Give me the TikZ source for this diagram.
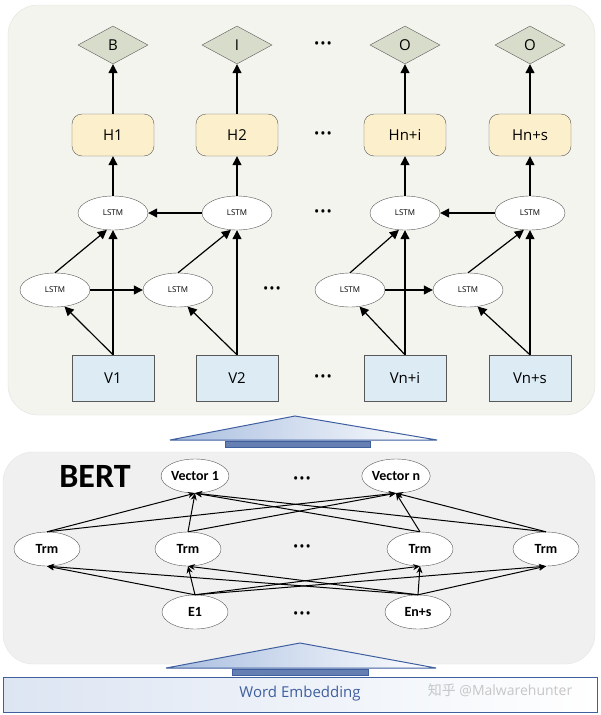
\documentclass[tikz,border=0pt]{standalone}
\usepackage{fontspec}
\setmainfont{Open Sans}
\newfontfamily\calfont{Carlito}
\newfontfamily\cjkf{Noto Sans CJK SC}
\usetikzlibrary{shapes.geometric,arrows.meta}
\definecolor{panel}{HTML}{F4F4EF}
\definecolor{panelb}{HTML}{F0F0F0}
\definecolor{dia}{HTML}{D8DCCB}
\definecolor{hbox}{HTML}{FCEFCB}
\definecolor{vbox}{HTML}{DCEBF4}
\definecolor{bluel}{HTML}{3F5F9F}
\definecolor{bluef}{HTML}{A9BEE0}
\begin{document}
\begin{tikzpicture}[x=1pt,y=-1pt,
 dia/.style={diamond,aspect=1.9,draw=gray!70!black,fill=dia,minimum width=70pt,minimum height=38pt,inner sep=0pt,font=\fontsize{15}{15}\selectfont},
 hb/.style={rectangle,rounded corners=10pt,draw=gray!70!black,fill=hbox,minimum width=82pt,minimum height=42pt,font=\fontsize{15}{15}\selectfont},
 ls/.style={ellipse,draw=gray!70!black,fill=white,minimum width=70pt,minimum height=34pt,inner sep=0pt,font=\fontsize{8}{8}\selectfont},
 vb/.style={rectangle,draw=gray!70!black,fill=vbox,minimum width=82pt,minimum height=46pt,font=\fontsize{15}{15}\selectfont},
 dots/.style={font=\fontsize{14}{14}\selectfont},
 ar/.style={-{Triangle[length=9pt,width=9pt]},line width=1.2pt},
 be/.style={ellipse,draw=gray!70!black,fill=white,minimum width=66pt,minimum height=34pt,inner sep=0pt,font=\calfont\bfseries\fontsize{14}{14}\selectfont},
 ba/.style={-{Stealth[length=7pt,width=6pt]},line width=1pt},
 bigar/.style={draw=bluel,line width=1pt,left color=bluef,right color=white},
 bar/.style={draw=bluel,line width=1pt,fill=bluel!80}]
\newcommand{\tdots}{\textbullet\kern1pt\textbullet\kern1pt\textbullet}
\useasboundingbox (0,0) rectangle (600,715);
\fill[white] (0,0) rectangle (600,715);
\filldraw[panel!85!gray,fill=panel,rounded corners=30pt] (8,5) rectangle (595,415);
% top nodes
\foreach \n/\x/\t in {1/113/B,2/237/I,3/405/O,4/530/O}{\node[dia] (d\n) at (\x,45) {\t};}
\foreach \n/\x/\t in {1/113/H1,2/237/H2,3/405/Hn+i,4/530/Hn+s}{\node[hb] (h\n) at (\x,135) {\t};}
\foreach \n/\x in {1/113,2/237,3/405,4/530}{\node[ls] (u\n) at (\x,213) {LSTM};}
\foreach \n/\x in {1/55,2/178,3/350,4/468}{\node[ls] (l\n) at (\x,290) {LSTM};}
\foreach \n/\x/\t in {1/113/V1,2/237/V2,3/405/Vn+i,4/530/Vn+s}{\node[vb] (v\n) at (\x,378) {\t};}
\node[dots] (t1) at (323,45) {\tdots};
\node[dots] (t2) at (323,135) {\tdots};
\node[dots] (t3) at (323,213) {\tdots};
\node[dots] (t4) at (272,290) {\tdots};
\node[dots] (t5) at (323,378) {\tdots};
\foreach \n in {1,2,3,4}{
 \draw[ar] (h\n) -- (d\n);
 \draw[ar] (u\n) -- (h\n);
 \draw[ar] (v\n.north) -- (u\n.south);
 \draw[ar] (v\n.north) -- (l\n.-60);
 \draw[ar] (l\n.north) -- (u\n.-110);
}
\draw[ar] (u2) -- (u1);
\draw[ar] (u4) -- (u3);
\draw[ar] (l1) -- (l2);
\draw[ar] (l3) -- (l4);
% big arrows
\draw[bigar] (170,440) -- (295,416) -- (437,440) -- cycle;
\draw[bar] (225,441) rectangle (370,447);
% BERT panel
\filldraw[panelb!90!gray,fill=panelb,rounded corners=30pt] (3,452) rectangle (595,664);
\node[font=\calfont\bfseries\fontsize{34}{34}\selectfont] (bert) at (95,476) {BERT};
\node[be] (vec1) at (195,476) {Vector 1};
\node[be] (vecn) at (396,476) {Vector n};
\node[be] (tr1) at (47,549) {Trm};
\node[be] (tr2) at (188,549) {Trm};
\node[be] (tr3) at (420,549) {Trm};
\node[be] (tr4) at (546,549) {Trm};
\node[be] (e1) at (195,612) {E1};
\node[be] (en) at (418,612) {En+s};
\node[dots] (b1) at (302,480) {\tdots};
\node[dots] (b2) at (302,548) {\tdots};
\node[dots] (b3) at (302,615) {\tdots};
\foreach \t in {tr1,tr2,tr3,tr4}{
 \draw[ba] (\t.north) -- (vec1.south);
 \draw[ba] (\t.north) -- (vecn.south);
 \draw[ba] (e1.north) -- (\t.south);
 \draw[ba] (en.north) -- (\t.south);
}
\draw[bigar] (166,668) -- (300,643) -- (436,668) -- cycle;
\draw[bar] (232,669) rectangle (368,675);
\draw[bluel,line width=1pt,left color=bluef!40,right color=white] (3,677) rectangle (597,712);
\node[text=bluel,font=\fontsize{15}{15}\selectfont] (we) at (300,694) {Word Embedding};
\node[text=gray!45,font=\fontsize{14}{14}\selectfont] (wm) at (500,690) {{\cjkf 知乎} @Malwarehunter};
\end{tikzpicture}
\end{document}
